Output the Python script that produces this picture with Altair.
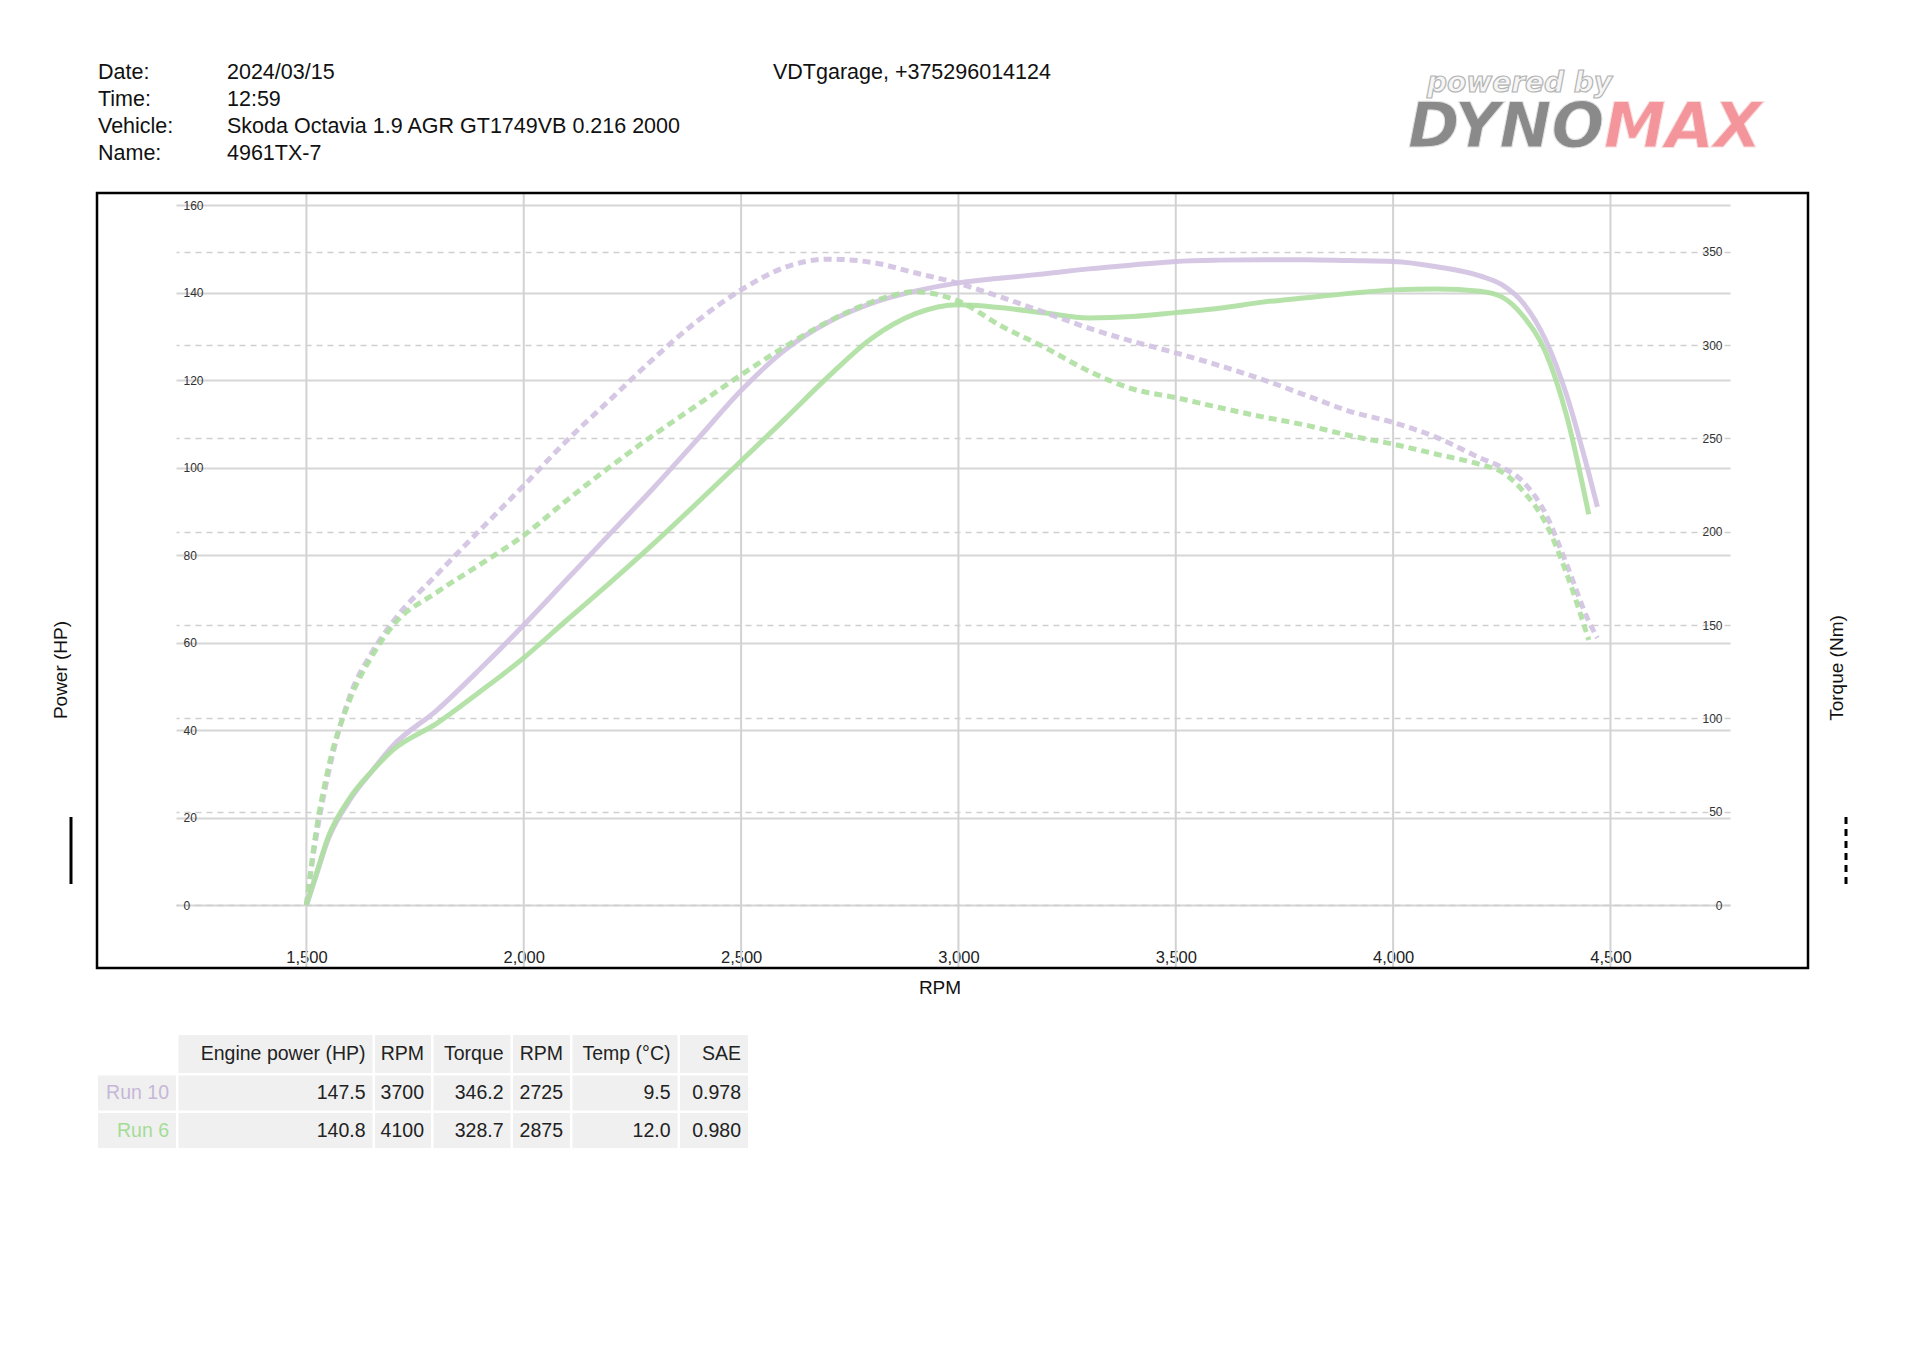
import altair as alt
import pandas as pd

# ---------------- data ----------------
rpm_run10 = [1500, 1520, 1550, 1600, 1650, 1700, 1800, 1900, 2000, 2100, 2200, 2300, 2400,
             2500, 2600, 2700, 2800, 2900, 3000, 3100, 3200, 3300, 3400, 3500, 3600, 3700,
             3800, 3900, 4000, 4100, 4200, 4250, 4300, 4350, 4400, 4450, 4470]
hp_run10 = [0, 6, 15, 24, 30.5, 36.5, 44.5, 54, 64, 74.5, 85, 95.5, 106.5,
            117.6, 126.8, 133.2, 137.5, 140.3, 142.2, 143.3, 144.3, 145.4, 146.3, 147.1, 147.4, 147.5,
            147.5, 147.3, 147.1, 145.9, 143.8, 141.8, 137.5, 129.3, 116.3, 98.7, 91]
tq_run10 = [0, 33, 70, 112, 135, 152, 177, 201, 224.7, 249, 271, 293, 313,
            329.5, 341.5, 346.0, 344.3, 338.7, 333, 325.5, 317.3, 309, 302, 295.8, 289, 281.5,
            273, 264.5, 258.5, 250.5, 239.5, 234.5, 226.5, 210, 182, 152, 143]

rpm_run6 = [1500, 1520, 1550, 1600, 1650, 1700, 1800, 1900, 2000, 2100, 2200, 2300, 2400,
            2500, 2600, 2700, 2800, 2900, 3000, 3100, 3200, 3300, 3400, 3500, 3600, 3700,
            3800, 3900, 4000, 4100, 4200, 4250, 4300, 4350, 4400, 4450]
hp_run6 = [0, 6.2, 15.5, 24.5, 30.5, 35.5, 41.5, 48.8, 56.5, 65.2, 73.8, 82.7, 92,
           101.5, 111, 120.7, 129.5, 135.1, 137.2, 136.5, 135.3, 134.2, 134.5, 135.4, 136.4, 137.8,
           138.8, 139.8, 140.6, 140.8, 140.3, 139, 134.5, 126.5, 111.5, 89.3]
tq_run6 = [0, 36, 73, 110, 133, 150, 167.5, 182.5, 198, 217, 235, 252, 268,
           284, 299, 312.5, 323, 328.5, 323.5, 310, 298.5, 286, 276.5, 271.8, 266.5, 261.5,
           257, 251.5, 246.9, 241.5, 236, 232, 221.5, 205, 177, 142]

run_names = ["Run 10", "Run 6"]
run_colors = ["#d2c2e2", "#addf9f"]

x_ticks = [1500, 2000, 2500, 3000, 3500, 4000, 4500]
hp_ticks = [0, 20, 40, 60, 80, 100, 120, 140, 160]
tq_ticks = [0, 50, 100, 150, 200, 250, 300, 350]

header_keys = ["Date:", "Time:", "Vehicle:", "Name:"]
header_vals = ["2024/03/15", "12:59", "Skoda Octavia 1.9 AGR GT1749VB 0.216 2000", "4961TX-7"]
company = "VDTgarage, +375296014124"

table_cols = ["Engine power (HP)", "RPM", "Torque", "RPM", "Temp (°C)", "SAE"]
table_run10 = ["147.5", "3700", "346.2", "2725", "9.5", "0.978"]
table_run6 = ["140.8", "4100", "328.7", "2875", "12.0", "0.980"]

# ---------------- layout / style ----------------
W, H = 1554, 700
FONT = "Liberation Sans"
X_DOMAIN = [1200, 4775]
HP_DOMAIN = [0, 160]
TQ_DOMAIN = [0, 375]

df = pd.concat([
    pd.DataFrame({"run": run_names[0], "rpm": rpm_run10, "hp": hp_run10, "tq": tq_run10}),
    pd.DataFrame({"run": run_names[1], "rpm": rpm_run6, "hp": hp_run6, "tq": tq_run6}),
])

color_enc = alt.Color("run:N", scale=alt.Scale(domain=run_names, range=run_colors), legend=None)
xscale = alt.Scale(domain=X_DOMAIN, nice=False, zero=False)

x_axis = alt.Axis(values=x_ticks, format=",d", grid=False, domain=False, ticks=False, tickSize=0,
                  labelPadding=52, labelBaseline="middle", labelFontSize=16.5, labelColor="#222",
                  labelFont=FONT, title=None)

# vertical grid rules spanning the whole frame
vgrid = alt.Chart(pd.DataFrame({"rpm": x_ticks})).mark_rule(color="#d2d2d2", strokeWidth=2).encode(
    x=alt.X("rpm:Q", scale=xscale, axis=x_axis),
    y=alt.value(-12), y2=alt.value(763),
)

power = alt.Chart(df).mark_line(strokeWidth=5, opacity=0.9, interpolate="monotone").encode(
    x=alt.X("rpm:Q", scale=xscale, axis=None),
    y=alt.Y("hp:Q", scale=alt.Scale(domain=HP_DOMAIN, nice=False),
            axis=alt.Axis(orient="left", values=hp_ticks, grid=True, gridColor="#d6d6d6", gridWidth=2,
                          domain=False, ticks=False, tickSize=0, labelAlign="left", labelBaseline="middle",
                          offset=-7, labelPadding=0, labelFontSize=12, labelColor="#333",
                          labelFont=FONT, title=None)),
    color=color_enc,
    detail="run:N",
)

torque = alt.Chart(df).mark_line(strokeWidth=5, opacity=0.9, interpolate="monotone",
                                 strokeDash=[8, 5]).encode(
    x=alt.X("rpm:Q", scale=xscale, axis=None),
    y=alt.Y("tq:Q", scale=alt.Scale(domain=TQ_DOMAIN, nice=False),
            axis=alt.Axis(orient="right", values=tq_ticks, grid=True, gridColor="#cfcfcf", gridWidth=1.5,
                          gridDash=[6, 5], domain=False, ticks=False, tickSize=0, labelAlign="right",
                          labelBaseline="middle", offset=-8, labelPadding=0, labelFontSize=12,
                          labelColor="#333", labelFont=FONT, title=None)),
    color=color_enc,
    detail="run:N",
)

one = pd.DataFrame({"a": [0]})

frame = alt.Chart(one).mark_rect(filled=False, stroke="black", strokeWidth=2.5).encode(
    x=alt.value(-79), x2=alt.value(1632), y=alt.value(-12), y2=alt.value(763))

def label(text, x, y, size=19, angle=0, align="center", color="#111", **kw):
    return alt.Chart(one).mark_text(text=text, fontSize=size, font=FONT, angle=angle, align=align,
                                    baseline="middle", color=color, **kw).encode(
        x=alt.value(x), y=alt.value(y))

title_x = label("RPM", 764, 783)
title_hp = label("Power (HP)", -115, 465, angle=270)
title_tq = label("Torque (Nm)", 1661, 463, angle=270)

leg_solid = alt.Chart(one).mark_rule(color="black", strokeWidth=3).encode(
    x=alt.value(-105), y=alt.value(612), y2=alt.value(679))
leg_dash = alt.Chart(one).mark_rule(color="black", strokeWidth=3, strokeDash=[7, 5]).encode(
    x=alt.value(1670), y=alt.value(612), y2=alt.value(679))

# header block
HDR_SIZE = 21.5
hdr = pd.DataFrame({
    "k": header_keys, "v": header_vals,
    "y": [-132 + 27 * i for i in range(len(header_keys))],
})
hdr_keys = alt.Chart(hdr).mark_text(align="left", baseline="middle", fontSize=HDR_SIZE, font=FONT,
                                    color="#111").encode(
    x=alt.value(-78), y=alt.Y("y:Q", scale=None, axis=None), text="k:N")
hdr_vals = alt.Chart(hdr).mark_text(align="left", baseline="middle", fontSize=HDR_SIZE, font=FONT,
                                    color="#111").encode(
    x=alt.value(51), y=alt.Y("y:Q", scale=None, axis=None), text="v:N")
hdr_company = label(company, 597, -132, size=HDR_SIZE, align="left")

# logo
logo_pow = alt.Chart(one).mark_text(text="powered by", font="DejaVu Sans", fontSize=28, fontStyle="italic",
                                    fontWeight="bold", align="left", baseline="alphabetic",
                                    fill="#f6f6f6", stroke="#b4b4b4", strokeWidth=1.2).encode(
    x=alt.value(1251), y=alt.value(-113))
logo_dyno = alt.Chart(one).mark_text(text="DYNO", font="DejaVu Sans", fontSize=62, fontStyle="italic",
                                     fontWeight="bold", align="left", baseline="alphabetic",
                                     fill="#8a8a8a", stroke="#e2e2e2", strokeWidth=1).encode(
    x=alt.value(1232), y=alt.value(-58))
logo_max = alt.Chart(one).mark_text(text="MAX", font="DejaVu Sans", fontSize=62, fontStyle="italic",
                                    fontWeight="bold", align="left", baseline="alphabetic",
                                    fill="#f4959b", stroke="#f6dede", strokeWidth=1).encode(
    x=alt.value(1428), y=alt.value(-58))

# table
col_w = [78, 194, 56, 77, 57, 105, 68]
row_h = [38, 35, 35]
gap = 2.5
x_edges = []
cx = -78
for w in col_w:
    x_edges.append((cx, cx + w))
    cx += w + gap
y_edges = []
cy = 830
for h in row_h:
    y_edges.append((cy, cy + h))
    cy += h + gap

rows = [[""] + table_cols, [run_names[0]] + table_run10, [run_names[1]] + table_run6]
cells = []
for r, row in enumerate(rows):
    for c, txt in enumerate(row):
        if r == 0 and c == 0:
            continue
        (x0, x1), (y0, y1) = x_edges[c], y_edges[r]
        col = "#222"
        if c == 0:
            col = "#c6b7d8" if r == 1 else "#a4dc96"
        cells.append({"x": x0, "x2": x1, "y": y0, "y2": y1, "tx": x1 - 7, "ty": (y0 + y1) / 2,
                      "t": txt, "tc": col})
cells = pd.DataFrame(cells)

tbl_bg = alt.Chart(cells).mark_rect(color="#f0f0f0").encode(
    x=alt.X("x:Q", scale=None, axis=None), x2="x2:Q",
    y=alt.Y("y:Q", scale=None, axis=None), y2="y2:Q")
tbl_txt = alt.Chart(cells).mark_text(align="right", baseline="middle", fontSize=19.5, font=FONT).encode(
    x=alt.X("tx:Q", scale=None, axis=None), y=alt.Y("ty:Q", scale=None, axis=None),
    text="t:N", color=alt.Color("tc:N", scale=None))

chart = alt.layer(
    vgrid, power, torque, frame, title_x, title_hp, title_tq, leg_solid, leg_dash,
    hdr_keys, hdr_vals, hdr_company, logo_pow, logo_dyno, logo_max, tbl_bg, tbl_txt,
).resolve_scale(
    y="independent", x="independent", color="independent"
).properties(
    width=W, height=H,
    padding={"left": 168, "top": 197, "right": 182, "bottom": 300},
    autosize=alt.AutoSizeParams(type="none"),
    background="white",
).configure_view(stroke=None)

chart.save("out.html", embed_options={"renderer": "svg", "actions": False})
